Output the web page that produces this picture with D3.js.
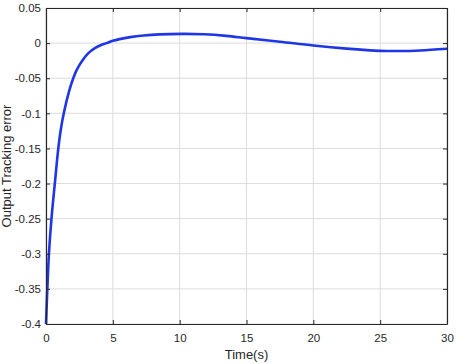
<!DOCTYPE html>
<html>
<head>
<meta charset="utf-8">
<script src="https://cdn.jsdelivr.net/npm/d3@7"></script>
<style>
  body { margin: 0; background: #fff; }
  text { font-family: "Liberation Sans", Arial, sans-serif; }
</style>
</head>
<body>
<svg id="chart" width="474" height="364"></svg>
<script>
// values
const timeSec = [0, 0.1, 0.22, 0.41, 0.66, 0.92, 1.1, 1.33, 1.75, 2.04, 2.3, 2.75, 3.17, 3.66, 4.17, 4.54, 5.0, 5.5, 6.3, 7.3, 8.5, 10.2, 11.8, 13.5, 15, 17.5, 20, 22.5, 25, 26.5, 28, 30]
const trackErr = [-0.4, -0.35, -0.3, -0.25, -0.2, -0.15, -0.124, -0.1, -0.067, -0.05, -0.038, -0.024, -0.0143, -0.0071, -0.0024, 0, 0.0033, 0.0057, 0.0085, 0.0108, 0.0124, 0.0131, 0.0126, 0.0103, 0.0071, 0.002, -0.0034, -0.0078, -0.011, -0.0113, -0.0105, -0.0081]
const xTicks = [0, 5, 10, 15, 20, 25, 30]
const yTicks = [0.05, 0, -0.05, -0.1, -0.15, -0.2, -0.25, -0.3, -0.35, -0.4]

const plot = { left: 46, right: 447, top: 8, bottom: 324 }
const axisColor = '#262626'

const svg = d3.select('#chart')

const x = d3.scaleLinear().domain([0, 30]).range([plot.left, plot.right])
const y = d3.scaleLinear().domain([-0.4, 0.05]).range([plot.bottom, plot.top])

// grid
const grid = svg.append('g').attr('class', 'grid')
grid.selectAll('line.gx')
  .data(xTicks)
  .enter()
  .append('line')
  .attr('x1', d => x(d)).attr('x2', d => x(d))
  .attr('y1', plot.top).attr('y2', plot.bottom)
  .attr('stroke', '#dcdcdc')
  .attr('stroke-width', 1)
grid.selectAll('line.gy')
  .data(yTicks)
  .enter()
  .append('line')
  .attr('y1', d => y(d)).attr('y2', d => y(d))
  .attr('x1', plot.left).attr('x2', plot.right)
  .attr('stroke', '#dcdcdc')
  .attr('stroke-width', 1)

// curve
const line = d3.line()
  .x((d, i) => x(timeSec[i]))
  .y(d => y(d))
  .curve(d3.curveCatmullRom.alpha(0.5))

svg.append('path')
  .datum(trackErr)
  .attr('d', line)
  .attr('fill', 'none')
  .attr('stroke', '#1e36e6')
  .attr('stroke-width', 2.6)
  .attr('stroke-linejoin', 'round')

// axes, MATLAB box style with inward ticks on all sides
const fmt = d => (d === 0 ? '0' : String(+d.toFixed(2)))

svg.append('g')
  .attr('transform', `translate(0,${plot.bottom})`)
  .call(d3.axisBottom(x).tickValues(xTicks).tickFormat(fmt).tickSizeInner(-4).tickSizeOuter(0).tickPadding(10))
svg.append('g')
  .attr('transform', `translate(0,${plot.top})`)
  .call(d3.axisTop(x).tickValues(xTicks).tickFormat('').tickSizeInner(-4).tickSizeOuter(0))
svg.append('g')
  .attr('transform', `translate(${plot.left},0)`)
  .call(d3.axisLeft(y).tickValues(yTicks).tickFormat(fmt).tickSizeInner(-4).tickSizeOuter(0).tickPadding(5))
svg.append('g')
  .attr('transform', `translate(${plot.right},0)`)
  .call(d3.axisRight(y).tickValues(yTicks).tickFormat('').tickSizeInner(-4).tickSizeOuter(0))

svg.selectAll('.domain').attr('stroke', axisColor).attr('stroke-width', 1.2)
svg.selectAll('.tick line').attr('stroke', axisColor)
svg.selectAll('.tick text')
  .attr('fill', axisColor)
  .style('font-size', '11.5px')
  .style('font-family', '"Liberation Sans", Arial, sans-serif')

// labels
svg.append('text')
  .attr('x', (plot.left + plot.right) / 2)
  .attr('y', 359)
  .attr('text-anchor', 'middle')
  .attr('fill', axisColor)
  .style('font-size', '13px')
  .text('Time(s)')

svg.append('text')
  .attr('transform', `translate(11,${(plot.top + plot.bottom) / 2}) rotate(-90)`)
  .attr('text-anchor', 'middle')
  .attr('fill', axisColor)
  .style('font-size', '13px')
  .text('Output Tracking error')
</script>
</body>
</html>
